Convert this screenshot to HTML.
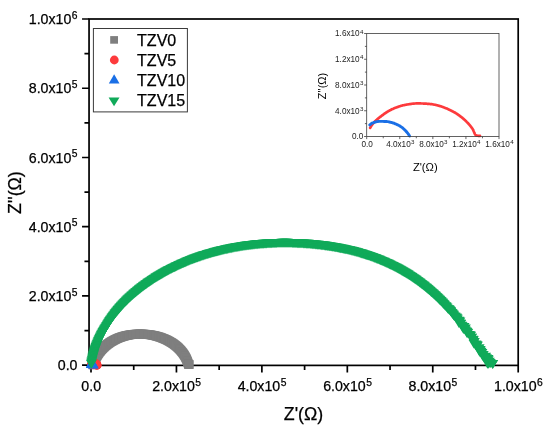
<!DOCTYPE html>
<html lang="en"><head><meta charset="utf-8"><title>Nyquist plot</title>
<style>
html,body{margin:0;padding:0;background:#fff;}
svg{display:block;font-family:'Liberation Sans', Arial, sans-serif;}
text{fill:#000;}
.tk{font-size:14.2px;stroke:#000;stroke-width:0.25px;}
.sup{font-size:10.3px;}
.itk{font-size:8.2px;fill:#222;}
.isup{font-size:6.2px;}
</style></head><body>
<svg width="550" height="427" viewBox="0 0 550 427">
<defs>
<marker id="mD" markerUnits="userSpaceOnUse" markerWidth="12" markerHeight="12" refX="6" refY="6" orient="0"><path d="M0.7,1.55 L11.3,1.55 L6,10.45 Z" fill="#10aa5a"/></marker>
<marker id="mS" markerUnits="userSpaceOnUse" markerWidth="10" markerHeight="10" refX="5" refY="5" orient="0"><rect x="0.65" y="0.65" width="8.7" height="8.7" fill="#7f7f7f"/></marker>
<marker id="mC" markerUnits="userSpaceOnUse" markerWidth="10" markerHeight="10" refX="5" refY="5" orient="0"><circle cx="5" cy="5" r="4.4" fill="#fd3a3c"/></marker>
<marker id="mU" markerUnits="userSpaceOnUse" markerWidth="12" markerHeight="12" refX="6" refY="6" orient="0"><path d="M0.7,10.5 L11.3,10.5 L6,1.4 Z" fill="#1a6fe6"/></marker>
<clipPath id="cp"><rect x="80" y="10" width="460" height="362"/></clipPath>
</defs>
<rect width="550" height="427" fill="#fff"/>

<rect x="89.05" y="19.0" width="429.15" height="346.40" fill="none" stroke="#000" stroke-width="1.7"/>
<path d="M91.00,365.4v7.0 M89.05,365.20h-7.0 M133.72,365.4v4.6 M89.05,330.58h-4.6 M176.44,365.4v7.0 M89.05,295.96h-7.0 M219.16,365.4v4.6 M89.05,261.34h-4.6 M261.88,365.4v7.0 M89.05,226.72h-7.0 M304.60,365.4v4.6 M89.05,192.10h-4.6 M347.32,365.4v7.0 M89.05,157.48h-7.0 M390.04,365.4v4.6 M89.05,122.86h-4.6 M432.76,365.4v7.0 M89.05,88.24h-7.0 M475.48,365.4v4.6 M89.05,53.62h-4.6 M518.20,365.4v7.0 M89.05,19.00h-7.0" stroke="#000" stroke-width="1.7" fill="none"/>
<polyline fill="none" stroke="none" marker-start="url(#mS)" marker-mid="url(#mS)" marker-end="url(#mS)" points="93.0,365.0 93.2,364.2 93.5,363.5 93.8,362.7 94.1,362.0 94.4,361.2 94.7,360.5 95.0,359.8 95.4,359.0 95.7,358.3 96.1,357.6 96.5,356.9 96.9,356.2 97.3,355.5 97.7,354.8 98.1,354.2 98.6,353.5 99.0,352.9 99.5,352.2 100.0,351.6 100.5,351.0 101.0,350.3 101.6,349.7 102.1,349.1 102.6,348.6 103.2,348.0 103.8,347.4 104.4,346.9 104.9,346.3 105.5,345.8 106.2,345.3 106.8,344.8 107.4,344.3 108.1,343.8 108.7,343.4 109.4,342.9 110.0,342.4 110.7,342.0 111.4,341.6 112.1,341.2 112.8,340.8 113.5,340.4 114.2,340.0 114.9,339.7 115.6,339.3 116.3,339.0 117.1,338.6 117.8,338.3 118.5,338.0 119.3,337.7 120.0,337.5 120.8,337.2 121.5,336.9 122.3,336.7 123.1,336.4 123.8,336.2 124.6,336.0 125.4,335.8 126.2,335.6 126.9,335.4 127.7,335.3 128.5,335.1 129.3,335.0 130.1,334.8 130.9,334.7 131.7,334.6 132.5,334.5 133.3,334.4 134.1,334.3 134.8,334.2 135.6,334.2 136.4,334.1 137.2,334.1 138.0,334.1 138.8,334.0 139.6,334.0 140.4,334.0 141.2,334.0 142.0,334.1 142.8,334.1 143.6,334.1 144.4,334.2 145.2,334.2 146.0,334.3 146.8,334.4 147.6,334.5 148.4,334.6 149.2,334.7 150.0,334.8 150.8,334.9 151.6,335.1 152.4,335.2 153.2,335.4 153.9,335.5 154.7,335.7 155.5,335.9 156.3,336.1 157.0,336.3 157.8,336.5 158.6,336.8 159.4,337.0 160.1,337.2 160.9,337.5 161.6,337.8 162.4,338.1 163.1,338.4 163.9,338.7 164.6,339.0 165.3,339.3 166.1,339.6 166.8,340.0 167.5,340.3 168.2,340.7 168.9,341.1 169.6,341.5 170.3,341.9 171.0,342.3 171.7,342.7 172.3,343.1 173.0,343.6 173.7,344.0 174.3,344.5 174.9,345.0 175.6,345.5 176.2,346.0 176.8,346.5 177.4,347.0 178.0,347.6 178.6,348.1 179.1,348.7 179.7,349.3 180.3,349.9 180.8,350.4 181.3,351.1 181.8,351.7 182.3,352.3 182.8,352.9 183.3,353.6 183.7,354.3 184.2,354.9 184.6,355.6 185.0,356.3 185.4,357.0 185.8,357.7 186.1,358.4 186.5,359.1 186.8,359.8 187.1,360.6 187.4,361.3 187.7,362.1 188.0,362.8 188.2,363.6 188.5,364.3 188.6,364.5 189.3,364.6 188.9,364.3"/>
<polyline fill="none" stroke="none" marker-start="url(#mC)" marker-mid="url(#mC)" marker-end="url(#mC)" points="91.5,364.7 91.6,364.6 91.7,364.5 91.8,364.4 91.9,364.2 92.0,364.1 92.1,364.0 92.2,364.0 92.4,363.9 92.5,363.8 92.6,363.7 92.8,363.7 92.9,363.6 93.1,363.5 93.2,363.5 93.4,363.5 93.5,363.5 93.7,363.4 93.9,363.4 94.0,363.4 94.2,363.4 94.3,363.4 94.5,363.4 94.6,363.5 94.8,363.5 94.9,363.5 95.1,363.6 95.2,363.6 95.4,363.7 95.5,363.7 95.7,363.8 95.8,363.9 95.9,364.0 96.1,364.1 96.2,364.1 96.3,364.2 96.4,364.4 96.5,364.5 96.6,364.6 96.7,364.7 96.8,364.9 96.9,365.0 97.0,365.1 97.1,365.2"/>
<polyline fill="none" stroke="none" marker-start="url(#mU)" marker-mid="url(#mU)" marker-end="url(#mU)" points="91.2,363.3 91.3,363.2 91.4,363.1 91.6,363.1 91.7,363.1 91.9,363.1 92.1,363.1 92.2,363.1 92.4,363.2 92.5,363.2 92.6,363.3 92.8,363.4 92.9,363.5 93.0,363.6 93.1,363.7 93.2,363.9"/>
<polyline fill="none" stroke="none" marker-start="url(#mD)" marker-mid="url(#mD)" marker-end="url(#mD)" points="91.3,364.4 91.5,363.8 91.7,362.8 91.8,361.8 92.1,360.8 92.3,359.9 92.5,358.9 92.7,357.9 93.0,357.0 93.2,356.0 93.5,355.1 93.8,354.1 94.0,353.2 94.3,352.2 94.6,351.3 94.9,350.3 95.3,349.4 95.6,348.5 95.9,347.5 96.3,346.6 96.6,345.7 97.0,344.8 97.4,343.9 97.8,342.9 98.1,342.0 98.5,341.1 99.0,340.2 99.4,339.4 99.8,338.5 100.2,337.6 100.7,336.7 101.1,335.8 101.6,335.0 102.0,334.1 102.5,333.2 103.0,332.4 103.5,331.5 104.0,330.7 104.5,329.8 105.0,329.0 105.5,328.2 106.1,327.3 106.6,326.5 107.1,325.6 107.6,324.8 108.1,324.0 108.6,323.1 109.1,322.3 109.7,321.5 110.2,320.7 110.8,319.9 111.3,319.1 111.9,318.2 112.5,317.4 113.0,316.7 113.6,315.9 114.2,315.1 114.8,314.3 115.4,313.5 116.0,312.7 116.7,312.0 117.3,311.2 117.9,310.5 118.5,309.7 119.2,309.0 119.8,308.2 120.5,307.5 121.1,306.7 121.8,306.0 122.5,305.3 123.1,304.6 123.8,303.8 124.5,303.1 125.2,302.4 125.9,301.7 126.6,301.0 127.3,300.3 128.0,299.6 128.7,298.9 129.4,298.3 130.2,297.6 130.9,296.9 131.6,296.3 132.4,295.6 133.1,294.9 133.9,294.3 134.6,293.6 135.4,293.0 136.1,292.4 136.9,291.7 137.6,291.1 138.4,290.5 139.2,289.8 140.0,289.2 140.7,288.6 141.5,288.0 142.3,287.4 143.1,286.8 143.9,286.2 144.7,285.6 145.5,285.0 146.3,284.5 147.1,283.9 147.9,283.3 148.7,282.7 149.6,282.2 150.4,281.6 151.2,281.1 152.0,280.5 152.9,280.0 153.7,279.4 154.5,278.9 155.4,278.3 156.2,277.8 157.1,277.3 157.9,276.8 158.8,276.3 159.6,275.7 160.5,275.2 161.3,274.7 162.2,274.2 163.0,273.7 163.9,273.2 164.8,272.8 165.6,272.3 166.5,271.8 167.4,271.3 168.3,270.8 169.1,270.4 170.0,269.9 170.9,269.5 171.8,269.0 172.7,268.5 173.6,268.1 174.5,267.7 175.4,267.2 176.3,266.8 177.2,266.4 178.1,265.9 179.0,265.5 179.9,265.1 180.8,264.7 181.7,264.3 182.6,263.9 183.5,263.5 184.4,263.1 185.3,262.7 186.3,262.3 187.2,261.9 188.1,261.5 189.0,261.1 189.9,260.8 190.9,260.4 191.8,260.0 192.7,259.7 193.7,259.3 194.6,259.0 195.5,258.6 196.5,258.3 197.4,258.0 198.3,257.6 199.3,257.3 200.2,257.0 201.2,256.6 202.1,256.3 203.1,256.0 204.0,255.7 205.0,255.4 205.9,255.1 206.9,254.8 207.8,254.5 208.8,254.2 209.7,253.9 210.7,253.7 211.7,253.4 212.6,253.1 213.6,252.8 214.5,252.6 215.5,252.3 216.5,252.1 217.4,251.8 218.4,251.5 219.4,251.3 220.3,251.1 221.3,250.8 222.3,250.6 223.3,250.4 224.2,250.1 225.2,249.9 226.2,249.7 227.2,249.5 228.1,249.3 229.1,249.1 230.1,248.9 231.1,248.7 232.0,248.5 233.0,248.3 234.0,248.1 235.0,247.9 236.0,247.7 237.0,247.6 237.9,247.4 238.9,247.2 239.9,247.1 240.9,246.9 241.9,246.7 242.9,246.6 243.9,246.4 244.9,246.3 245.8,246.1 246.8,246.0 247.8,245.9 248.8,245.7 249.8,245.6 250.8,245.5 251.8,245.4 252.8,245.3 253.8,245.1 254.8,245.0 255.8,244.9 256.8,244.8 257.8,244.7 258.8,244.6 259.8,244.5 260.8,244.4 261.7,244.4 262.7,244.3 263.7,244.2 264.7,244.1 265.7,244.1 266.7,244.0 267.7,243.9 268.7,243.9 269.7,243.8 270.7,243.7 271.7,243.7 272.7,243.6 273.7,243.6 274.7,243.6 275.7,243.5 276.7,243.5 277.7,243.4 278.7,243.4 279.7,243.4 280.7,243.4 281.7,243.3 282.7,243.3 283.7,243.3 284.7,243.3 285.7,243.3 286.7,243.3 287.7,243.3 288.7,243.4 289.7,243.4 290.7,243.4 291.7,243.4 292.7,243.5 293.7,243.5 294.7,243.5 295.7,243.6 296.7,243.6 297.7,243.7 298.7,243.7 299.7,243.8 300.7,243.8 301.7,243.9 302.7,243.9 303.7,244.0 304.7,244.1 305.7,244.1 306.7,244.2 307.7,244.3 308.7,244.3 309.7,244.4 310.7,244.5 311.7,244.6 312.7,244.7 313.7,244.8 314.7,244.9 315.7,245.0 316.7,245.1 317.7,245.2 318.7,245.3 319.7,245.4 320.7,245.5 321.7,245.7 322.7,245.8 323.7,245.9 324.7,246.0 325.6,246.2 326.6,246.3 327.6,246.5 328.6,246.6 329.6,246.8 330.6,246.9 331.6,247.1 332.6,247.2 333.5,247.4 334.5,247.6 335.5,247.7 336.5,247.9 337.5,248.1 338.5,248.3 339.4,248.5 340.4,248.7 341.4,248.9 342.4,249.1 343.4,249.3 344.3,249.5 345.3,249.7 346.3,249.9 347.3,250.1 348.2,250.4 349.2,250.6 350.2,250.8 351.2,251.1 352.1,251.3 353.1,251.5 354.1,251.8 355.0,252.1 356.0,252.3 356.9,252.6 357.9,252.8 358.9,253.1 359.8,253.4 360.8,253.7 361.7,254.0 362.7,254.3 363.6,254.6 364.6,254.9 365.5,255.2 366.5,255.5 367.4,255.8 368.4,256.1 369.3,256.4 370.3,256.8 371.2,257.1 372.1,257.4 373.1,257.8 374.0,258.1 374.9,258.5 375.9,258.8 376.8,259.2 377.7,259.6 378.7,259.9 379.6,260.3 380.5,260.7 381.4,261.1 382.3,261.5 383.3,261.9 384.2,262.3 385.1,262.7 386.0,263.1 386.9,263.5 387.8,263.9 388.7,264.3 389.6,264.8 390.5,265.2 391.4,265.6 392.3,266.1 393.2,266.5 394.1,267.0 394.9,267.4 395.8,267.9 396.7,268.3 397.6,268.8 398.5,269.3 399.3,269.8 400.2,270.3 401.1,270.7 401.9,271.2 402.8,271.7 403.6,272.2 404.5,272.7 405.3,273.3 406.2,273.8 407.0,274.3 407.9,274.8 408.7,275.3 409.6,275.9 410.4,276.4 411.2,277.0 412.1,277.5 412.9,278.1 413.7,278.6 414.5,279.2 415.3,279.8 416.1,280.3 416.9,280.9 417.8,281.5 418.6,282.1 419.4,282.7 420.1,283.3 420.9,283.9 421.7,284.5 422.5,285.1 423.3,285.7 424.1,286.3 424.8,286.9 425.6,287.6 426.4,288.2 427.1,288.8 427.9,289.5 428.7,290.1 429.4,290.7 430.2,291.4 430.9,292.1 431.6,292.7 432.4,293.4 433.1,294.0 433.9,294.7 434.6,295.4 435.3,296.0 436.0,296.7 436.8,297.4 437.5,298.1 438.2,298.8 438.9,299.6 439.7,300.3 440.1,300.8 441.0,301.5 441.6,302.2 442.5,302.9 443.0,303.7 443.7,304.5 444.4,305.1 444.9,305.9 445.9,306.6 446.4,307.3 447.1,307.9 447.7,309.1 448.8,309.7 449.2,310.0 450.0,310.7 450.7,311.5 451.0,312.4 452.0,313.5 452.6,314.2 453.3,315.0 453.7,315.8 454.3,316.6 455.4,317.2 456.5,317.9 456.1,318.4 457.2,318.6 457.5,320.0 458.6,321.5 459.1,321.3 460.0,322.0 458.9,323.6 460.5,323.9 460.9,324.4 461.9,326.2 462.2,326.6 462.9,327.4 464.2,327.5 465.5,328.9 463.4,329.6 465.4,330.7 466.4,331.7 466.8,332.5 467.2,332.7 467.1,333.8 467.9,333.4 469.7,335.4 470.5,336.3 470.4,336.3 470.3,336.8 471.5,338.2 471.8,338.1 473.0,340.1 473.3,340.9 473.2,340.7 474.5,342.4 473.8,344.1 476.2,344.9 477.1,345.7 475.4,345.5 477.5,346.1 476.7,346.9 479.3,348.7 479.7,351.3 479.1,351.2 481.0,352.3 480.0,352.9 480.4,350.5 481.0,352.8 482.1,353.4 482.5,356.2 483.7,357.5 483.4,355.5 485.7,357.2 486.6,358.6 485.4,358.1 484.8,358.7 488.2,359.4 489.5,362.3 488.4,360.6 487.5,364.2 490.4,363.5 492.8,364.4 488.7,364.4 492.8,364.4 492.4,364.4"/>
<text class="tk" x="91.2" y="390.9" text-anchor="middle">0.0</text>
<text class="tk" x="77.5" y="370.3" text-anchor="end">0.0</text>
<text class="tk" x="176.6" y="390.9" text-anchor="middle">2.0x10<tspan class="sup" dx="0.4" dy="-4.7">5</tspan></text>
<text class="tk" x="77.5" y="301.1" text-anchor="end">2.0x10<tspan class="sup" dx="0.4" dy="-5.4">5</tspan></text>
<text class="tk" x="262.0" y="390.9" text-anchor="middle">4.0x10<tspan class="sup" dx="0.4" dy="-4.7">5</tspan></text>
<text class="tk" x="77.5" y="231.8" text-anchor="end">4.0x10<tspan class="sup" dx="0.4" dy="-5.4">5</tspan></text>
<text class="tk" x="347.5" y="390.9" text-anchor="middle">6.0x10<tspan class="sup" dx="0.4" dy="-4.7">5</tspan></text>
<text class="tk" x="77.5" y="162.6" text-anchor="end">6.0x10<tspan class="sup" dx="0.4" dy="-5.4">5</tspan></text>
<text class="tk" x="432.9" y="390.9" text-anchor="middle">8.0x10<tspan class="sup" dx="0.4" dy="-4.7">5</tspan></text>
<text class="tk" x="77.5" y="93.3" text-anchor="end">8.0x10<tspan class="sup" dx="0.4" dy="-5.4">5</tspan></text>
<text class="tk" x="518.4" y="390.9" text-anchor="middle">1.0x10<tspan class="sup" dx="0.4" dy="-4.7">6</tspan></text>
<text class="tk" x="77.5" y="24.1" text-anchor="end">1.0x10<tspan class="sup" dx="0.4" dy="-5.4">6</tspan></text>
<text x="303.5" y="419.6" font-size="17.8" text-anchor="middle" stroke="#000" stroke-width="0.25">Z'(Ω)</text>
<text transform="translate(20.6,192.6) rotate(-90)" font-size="17.8" text-anchor="middle" stroke="#000" stroke-width="0.25">Z''(Ω)</text>
<rect x="93.4" y="28.5" width="94" height="83.4" fill="#fff" stroke="#3a3a3a" stroke-width="1"/>
<rect x="110.2" y="36.1" width="7.8" height="7.6" fill="#7f7f7f"/>
<circle cx="114.3" cy="60" r="4.4" fill="#fd3a3c"/>
<path d="M108.8,83.6 L119.5,83.6 L114.15,74.2 Z" fill="#1a6fe6"/>
<path d="M108.6,97.4 L119.5,97.4 L114.05,106.2 Z" fill="#10aa5a"/>
<text x="137.1" y="45.7" font-size="16" stroke="#000" stroke-width="0.25">TZV0</text>
<text x="137.1" y="65.7" font-size="16" stroke="#000" stroke-width="0.25">TZV5</text>
<text x="137.1" y="85.7" font-size="16" stroke="#000" stroke-width="0.25">TZV10</text>
<text x="137.1" y="105.7" font-size="16" stroke="#000" stroke-width="0.25">TZV15</text>
<polyline fill="none" stroke="#fd3a3c" stroke-width="2.7" stroke-linecap="round" stroke-linejoin="round" points="370.1,127.9 370.4,127.5 370.6,127.0 370.9,126.6 371.1,126.2 371.4,125.8 371.7,125.4 372.0,124.9 372.3,124.5 372.6,124.1 372.9,123.7 373.2,123.4 373.5,123.0 373.9,122.6 374.2,122.2 374.5,121.9 374.9,121.5 375.2,121.1 375.6,120.8 376.0,120.5 376.3,120.1 376.7,119.8 377.1,119.4 377.4,119.1 377.8,118.8 378.2,118.5 378.6,118.2 379.0,117.8 379.4,117.5 379.8,117.2 380.2,116.9 380.6,116.6 381.0,116.3 381.4,116.0 381.8,115.7 382.2,115.4 382.6,115.1 383.0,114.8 383.4,114.5 383.8,114.2 384.2,113.9 384.6,113.6 385.0,113.3 385.4,113.1 385.8,112.8 386.2,112.5 386.7,112.2 387.1,112.0 387.5,111.7 387.9,111.4 388.4,111.2 388.8,110.9 389.2,110.7 389.7,110.5 390.1,110.2 390.6,110.0 391.0,109.8 391.5,109.5 391.9,109.3 392.4,109.1 392.8,108.9 393.3,108.7 393.7,108.5 394.2,108.3 394.7,108.1 395.1,107.9 395.6,107.8 396.1,107.6 396.5,107.4 397.0,107.2 397.5,107.0 397.9,106.9 398.4,106.7 398.9,106.5 399.4,106.4 399.8,106.2 400.3,106.1 400.8,105.9 401.3,105.8 401.7,105.7 402.2,105.5 402.7,105.4 403.2,105.3 403.7,105.2 404.2,105.1 404.7,105.0 405.2,104.9 405.7,104.8 406.2,104.7 406.6,104.6 407.1,104.5 407.6,104.5 408.1,104.4 408.6,104.3 409.1,104.2 409.6,104.1 410.1,104.1 410.6,104.0 411.1,103.9 411.6,103.9 412.1,103.8 412.6,103.7 413.1,103.7 413.6,103.6 414.1,103.6 414.6,103.5 415.1,103.5 415.6,103.5 416.1,103.4 416.6,103.4 417.1,103.4 417.6,103.4 418.1,103.4 418.6,103.4 419.1,103.4 419.6,103.4 420.1,103.4 420.6,103.4 421.1,103.5 421.6,103.5 422.1,103.5 422.6,103.5 423.1,103.5 423.6,103.6 424.1,103.6 424.6,103.6 425.1,103.6 425.6,103.7 426.1,103.7 426.6,103.7 427.1,103.8 427.6,103.8 428.1,103.8 428.6,103.9 429.1,103.9 429.6,104.0 430.1,104.0 430.6,104.1 431.1,104.1 431.6,104.2 432.1,104.2 432.6,104.3 433.0,104.4 433.5,104.5 434.0,104.6 434.5,104.7 435.0,104.8 435.5,104.9 436.0,105.0 436.5,105.1 437.0,105.2 437.4,105.4 437.9,105.5 438.4,105.6 438.9,105.7 439.4,105.9 439.9,106.0 440.3,106.2 440.8,106.3 441.3,106.5 441.8,106.6 442.2,106.8 442.7,107.0 443.2,107.1 443.6,107.3 444.1,107.5 444.6,107.7 445.0,107.9 445.5,108.1 446.0,108.2 446.4,108.4 446.9,108.6 447.4,108.8 447.8,109.0 448.3,109.2 448.7,109.5 449.2,109.7 449.6,109.9 450.1,110.1 450.5,110.3 451.0,110.5 451.4,110.8 451.9,111.0 452.3,111.2 452.8,111.4 453.2,111.7 453.7,111.9 454.1,112.1 454.5,112.4 455.0,112.6 455.4,112.9 455.8,113.2 456.2,113.4 456.7,113.7 457.1,114.0 457.5,114.3 457.9,114.5 458.3,114.8 458.7,115.1 459.1,115.4 459.5,115.7 459.9,116.0 460.3,116.3 460.7,116.6 461.1,116.9 461.5,117.2 461.9,117.5 462.3,117.9 462.7,118.2 463.1,118.5 463.4,118.8 463.8,119.2 464.2,119.5 464.6,119.8 464.9,120.2 465.3,120.5 465.7,120.8 466.0,121.2 466.4,121.5 466.7,121.9 467.1,122.3 467.4,122.6 467.8,123.0 468.1,123.3 468.5,123.7 468.8,124.1 469.1,124.5 469.5,124.8 469.8,125.2 470.1,125.6 470.4,126.0 470.7,126.4 471.0,126.8 471.3,127.2 471.7,127.6 471.9,128.0 472.2,128.4 472.5,128.8 472.8,129.2 473.0,129.7 473.2,130.1 473.4,130.6 473.6,131.0 473.8,131.5 474.0,132.0 474.2,132.4 474.4,132.9 474.6,133.3 474.8,133.8 475.0,134.2 475.3,134.6 475.7,135.0 476.1,135.3 476.5,135.5 477.0,135.6 477.5,135.7 478.0,135.8 478.5,135.8 479.0,135.9 479.5,135.9 480.0,135.9"/>
<polyline fill="none" stroke="#1a6fe6" stroke-width="2.9" stroke-linecap="round" stroke-linejoin="round" points="369.7,124.9 370.1,124.6 370.5,124.3 370.9,124.0 371.3,123.7 371.7,123.4 372.2,123.2 372.6,122.9 373.1,122.8 373.6,122.6 374.0,122.4 374.5,122.3 375.0,122.1 375.5,122.0 376.0,121.9 376.5,121.7 377.0,121.6 377.5,121.6 378.0,121.5 378.5,121.4 379.0,121.4 379.5,121.4 380.0,121.4 380.5,121.4 381.0,121.4 381.5,121.4 382.0,121.4 382.5,121.4 383.0,121.4 383.5,121.4 384.0,121.5 384.5,121.5 385.0,121.5 385.5,121.5 386.0,121.5 386.5,121.5 387.0,121.6 387.5,121.6 388.0,121.7 388.5,121.8 389.0,121.9 389.5,122.0 390.0,122.1 390.5,122.3 391.0,122.4 391.5,122.5 392.0,122.6 392.4,122.8 392.9,122.9 393.4,123.1 393.9,123.2 394.4,123.4 394.8,123.6 395.3,123.8 395.8,124.0 396.2,124.2 396.7,124.4 397.1,124.6 397.6,124.8 398.0,125.0 398.5,125.3 398.9,125.5 399.4,125.7 399.8,126.0 400.2,126.3 400.7,126.6 401.1,126.8 401.5,127.1 401.9,127.4 402.3,127.7 402.7,128.0 403.1,128.4 403.5,128.7 403.8,129.0 404.2,129.4 404.6,129.7 404.9,130.1 405.3,130.4 405.6,130.8 406.0,131.2 406.3,131.6 406.6,131.9 406.9,132.3 407.3,132.7 407.6,133.1 407.9,133.5 408.2,133.9 408.5,134.3 408.8,134.7 409.1,135.2 409.3,135.6 409.6,136.0"/>
<rect x="366.7" y="33.5" width="132.30" height="103.00" fill="none" stroke="#3c3c3c" stroke-width="0.8"/>
<path d="M366.70,136.5v2.6 M366.7,136.50h-2.6 M383.24,136.5v1.8 M366.7,123.62h-1.8 M399.77,136.5v2.6 M366.7,110.75h-2.6 M416.31,136.5v1.8 M366.7,97.88h-1.8 M432.85,136.5v2.6 M366.7,85.00h-2.6 M449.39,136.5v1.8 M366.7,72.12h-1.8 M465.93,136.5v2.6 M366.7,59.25h-2.6 M482.46,136.5v1.8 M366.7,46.38h-1.8 M499.00,136.5v2.6 M366.7,33.50h-2.6" stroke="#3c3c3c" stroke-width="0.8" fill="none"/>
<text class="itk" x="367.2" y="146.7" text-anchor="middle">0.0</text>
<text class="itk" x="363.4" y="139.4" text-anchor="end">0.0</text>
<text class="itk" x="400.3" y="146.7" text-anchor="middle">4.0x10<tspan class="isup" dx="0.3" dy="-2.9">3</tspan></text>
<text class="itk" x="363.4" y="113.7" text-anchor="end">4.0x10<tspan class="isup" dx="0.3" dy="-2.9">3</tspan></text>
<text class="itk" x="433.4" y="146.7" text-anchor="middle">8.0x10<tspan class="isup" dx="0.3" dy="-2.9">3</tspan></text>
<text class="itk" x="363.4" y="87.9" text-anchor="end">8.0x10<tspan class="isup" dx="0.3" dy="-2.9">3</tspan></text>
<text class="itk" x="466.4" y="146.7" text-anchor="middle">1.2x10<tspan class="isup" dx="0.3" dy="-2.9">4</tspan></text>
<text class="itk" x="363.4" y="62.1" text-anchor="end">1.2x10<tspan class="isup" dx="0.3" dy="-2.9">4</tspan></text>
<text class="itk" x="499.5" y="146.7" text-anchor="middle">1.6x10<tspan class="isup" dx="0.3" dy="-2.9">4</tspan></text>
<text class="itk" x="363.4" y="36.4" text-anchor="end">1.6x10<tspan class="isup" dx="0.3" dy="-2.9">4</tspan></text>
<text x="425.3" y="171.1" font-size="11.2" text-anchor="middle" fill="#222">Z'(Ω)</text>
<text transform="translate(326.4,86.0) rotate(-90)" font-size="11" text-anchor="middle" fill="#222">Z''(Ω)</text>
</svg></body></html>
